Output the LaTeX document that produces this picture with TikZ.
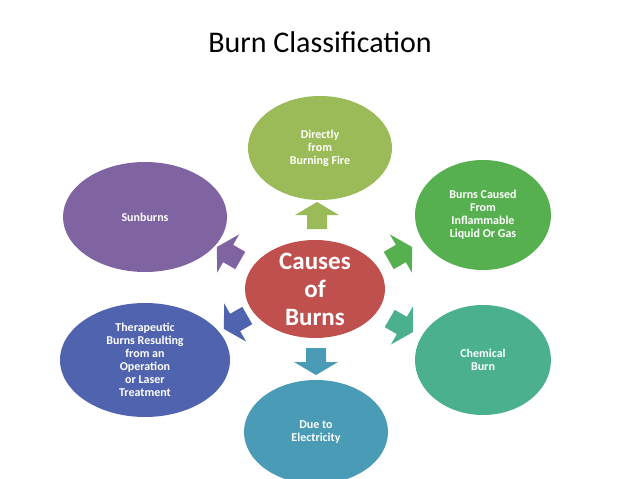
\documentclass[tikz,border=0pt]{standalone}
\usepackage{fontspec}
\setmainfont{Carlito}
\usetikzlibrary{shapes.geometric}
\definecolor{cred}{HTML}{C0504D}
\definecolor{ctop}{HTML}{9BBB59}
\definecolor{cur}{HTML}{56B04F}
\definecolor{clr}{HTML}{4BB08E}
\definecolor{cbot}{HTML}{4A9BB5}
\definecolor{cll}{HTML}{4F63AE}
\definecolor{cul}{HTML}{8064A2}
\begin{document}
\begin{tikzpicture}[x=1pt,y=-1pt,
  blob/.style={ellipse,inner sep=0pt,text=white,font=\bfseries\fontsize{12}{13}\selectfont,align=center},
  barrow/.pic={\fill (-13,-10)--(1,-10)--(1,-22)--(14,0)--(1,22)--(1,10)--(-13,10)--cycle;}]
\useasboundingbox (0,0) rectangle (638,479);
\fill[white] (0,0) rectangle (638,479);
\node (title) at (320,42) {\fontsize{30}{34}\selectfont Burn Classification};
\fill[ctop] (320,148) ellipse [x radius=72,y radius=52];
\node[blob] (top) at (320,148) {Directly\\from\\Burning Fire};
\fill[cur] (483,215) ellipse [x radius=68,y radius=55];
\node[blob] (ur) at (483,215) {Burns Caused\\From\\Inflammable\\Liquid Or Gas};
\fill[clr] (483,360) ellipse [x radius=68,y radius=55];
\node[blob] (lr) at (483,360) {Chemical\\Burn};
\fill[cbot] (316,432) ellipse [x radius=72,y radius=52];
\node[blob] (bot) at (316,432) {Due to\\Electricity};
\fill[cll] (145,360) ellipse [x radius=85,y radius=57];
\node[blob] (ll) at (145,360) {Therapeutic\\Burns Resulting\\from an\\Operation\\or Laser\\Treatment};
\fill[cul] (145,217) ellipse [x radius=82,y radius=55];
\node[blob] (ul) at (145,217) {Sunburns};
\fill[cred] (315,289) ellipse [x radius=70,y radius=49];
\node[blob,font=\bfseries\fontsize{25}{28}\selectfont] (c) at (315,289) {Causes\\of\\Burns};
\pic[ctop,rotate=90] at (317,216) {barrow};
\pic[cur,rotate=30] at (400,254) {barrow};
\pic[clr,rotate=-30] at (401,325) {barrow};
\pic[cbot,rotate=-90] at (316,361) {barrow};
\pic[cll,rotate=210] at (236,322) {barrow};
\pic[cul,rotate=150] at (229,254) {barrow};
\end{tikzpicture}
\end{document}
